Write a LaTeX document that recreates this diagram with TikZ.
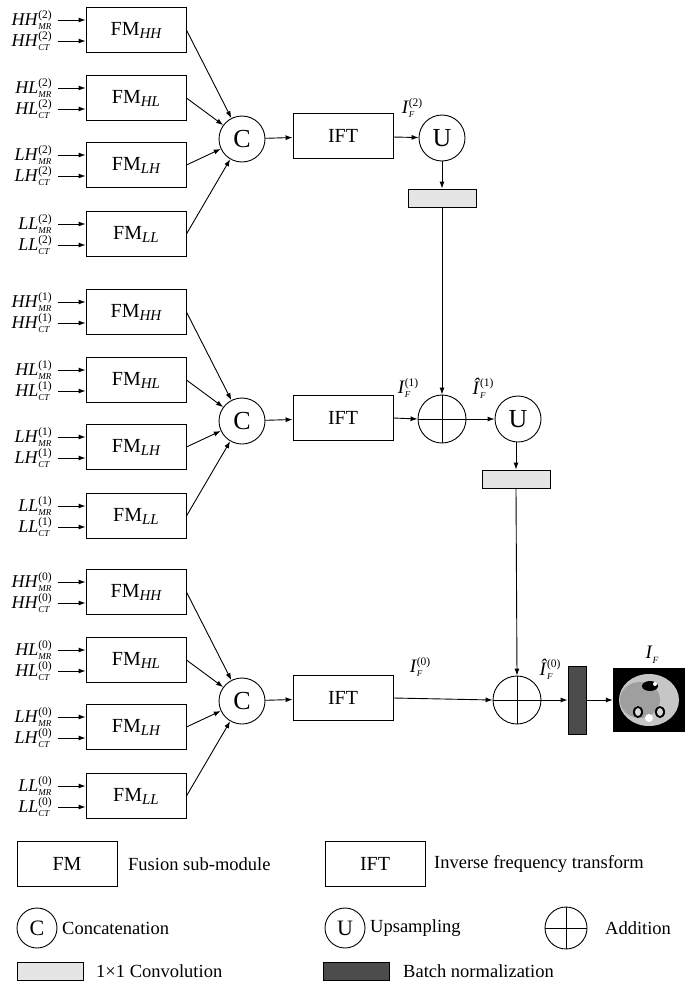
\documentclass[tikz,border=0pt]{standalone}
\usepackage{fontspec}
\setmainfont{Liberation Serif}
\usetikzlibrary{arrows.meta}
\newcommand{\blab}[3]{\textit{#1}\raisebox{-4pt}{\shortstack[l]{\fontsize{11.5}{10}\selectfont(#2)\\\fontsize{9}{9}\selectfont\textit{#3}}}}
\begin{document}
\begin{tikzpicture}[x=1pt,y=-1pt,
  every node/.style={inner sep=0pt},
  ln/.style={line width=0.9pt},
  arr/.style={ln,-{Latex[length=7pt,width=5pt]}},
  box/.style={draw,ln,minimum width=100pt,minimum height=45pt,font=\fontsize{20}{20}\selectfont},
  circ/.style={draw,ln,circle,minimum size=46pt,font=\fontsize{26}{26}\selectfont},
  plus/.style={draw,ln,circle,minimum size=48pt,path picture={\draw[ln] (path picture bounding box.north)--(path picture bounding box.south) (path picture bounding box.west)--(path picture bounding box.east);}},
  conv/.style={draw,ln,fill=gray!20,minimum width=68pt,minimum height=18pt},
  bn/.style={draw,ln,fill=black!70,minimum width=18pt,minimum height=68pt},
  inl/.style={anchor=east,font=\fontsize{18}{18}\selectfont},
  lbl/.style={font=\fontsize{19}{19}\selectfont},
  leg/.style={anchor=west,font=\fontsize{18.5}{18.5}\selectfont}]
\useasboundingbox (0,0) rectangle (685,983);
\foreach \g/\s/\o in {a/2/0,b/1/282,c/0/562}{
  \foreach \k/\t/\yy in {1/HH/30,2/HL/98,3/LH/165,4/LL/234}{
    \node[box] (fm\g\k) at (136,\yy+\o) {FM\textit{\fontsize{15}{15}\selectfont\raisebox{-3pt}{\t}}};
    \node[inl] (m\g\k) at (52,\yy+\o-10) {\blab{\t}{\s}{MR}};
    \node[inl] (c\g\k) at (52,\yy+\o+11) {\blab{\t}{\s}{CT}};
    \draw[arr] (58,\yy+\o-10) -- (fm\g\k.west|-m\g\k.east);
    \draw[arr] (58,\yy+\o+11) -- (fm\g\k.west|-c\g\k.east);
  }
  \node[circ] (C\g) at (242,139+\o) {C};
  \foreach \k in {1,2,3,4}{\draw[arr] (fm\g\k.east) -- (C\g);}
  \node[box] (ift\g) at (343,136+\o) {IFT};
  \draw[arr] (C\g) -- (ift\g);
}
% top path
\node[circ] (U1) at (442,138) {U};
\draw[arr] (ifta) -- (U1);
\node[lbl] (la) at (412,108) {\blab{I}{2}{F}};
\node[conv] (cv1) at (442,198) {};
\draw[arr] (U1) -- (cv1);
\node[plus] (P1) at (442,419) {};
\draw[arr] (iftb.east) -- (P1.west);
\draw[arr] (cv1.south) -- (P1.north);
\node[lbl] (lb) at (408,388) {\blab{I}{1}{F}};
\node[circ] (U2) at (518,419) {U};
\draw[arr] (P1.east) -- (U2.west);
\node[lbl] (lb2) at (483,388) {\blab{\^{I}}{1}{F}};
\node[conv] (cv2) at (516,479) {};
\draw[arr] (U2.south-|cv2) -- (cv2.north);
\node[plus] (P0) at (517,700) {};
\draw[arr] (iftc.east) -- (P0.west);
\draw[arr] (cv2.south) -- (P0.north);
\node[lbl] (lc) at (420,667) {\blab{I}{0}{F}};
\node[lbl] (lc2) at (550,669) {\blab{\^{I}}{0}{F}};
\node[bn] (bn0) at (577,700) {};
\draw[arr] (P0.east) -- (bn0.west);
% CT image
\node[fill=black,minimum width=72pt,minimum height=64pt] (img) at (649,700) {};
\begin{scope}
\clip (img.south west) rectangle (img.north east);
\fill[gray!45] (649,700) ellipse (30pt and 26pt);
\fill[gray!75] (640,700) ellipse (20pt and 18pt);
\fill[black] (650,686) ellipse (8pt and 5pt);
\fill[black] (638,712) ellipse (5pt and 6pt);
\fill[black] (660,712) ellipse (5pt and 6pt);
\fill[gray!30] (638,712) ellipse (3pt and 4pt);
\fill[gray!30] (660,712) ellipse (3pt and 4pt);
\fill[white] (649,718) circle (4pt);
\fill[white] (655,684) circle (2pt);
\end{scope}
\draw[arr] (bn0.east) -- (img.west);
\node[lbl] (lf) at (652,655) {\textit{I}\raisebox{-5pt}{\fontsize{9.5}{10}\selectfont\textit{F}}};
% legend
\node[box] (lg1) at (67,864) {FM};
\node[leg] (lt1) at (128,864) {Fusion sub-module};
\node[box] (lg2) at (375,864) {IFT};
\node[leg] (lt2) at (434,864) {Inverse frequency transform};
\node[circ,minimum size=40pt,font=\fontsize{22}{22}\selectfont] (lg3) at (37,928) {C};
\node[leg] (lt3) at (62,928) {Concatenation};
\node[circ,minimum size=40pt,font=\fontsize{22}{22}\selectfont] (lg4) at (345,928) {U};
\node[leg] (lt4) at (370,928) {Upsampling};
\node[plus,minimum size=42pt] (lg5) at (566,928) {};
\node[leg] (lt5) at (605,928) {Addition};
\node[conv,minimum width=66pt] (lg6) at (50,971) {};
\node[leg] (lt6) at (96,971) {1×1 Convolution};
\node[conv,fill=black!70,minimum width=66pt] (lg7) at (356,971) {};
\node[leg] (lt7) at (403,971) {Batch normalization};
\end{tikzpicture}
\end{document}
